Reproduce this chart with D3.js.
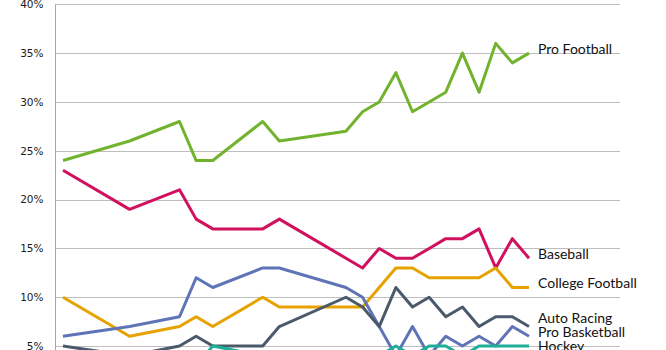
<!DOCTYPE html>
<html>
<head>
<meta charset="utf-8">
<script src="https://cdn.jsdelivr.net/npm/d3@7"></script>
<style>
  html, body { margin: 0; padding: 0; background: #fff; overflow: hidden; }
  svg { display: block; }
</style>
</head>
<body>
<svg id="chart" width="666" height="350"></svg>
<script>
// Survey years and share of fans naming each sport as their favourite (%)
const years = [1985, 1989, 1992, 1993, 1994, 1997, 1998, 2002, 2003, 2004, 2005, 2006, 2007, 2008, 2009, 2010, 2011, 2012, 2013];
const proFootball     = [24, 26, 28, 24, 24, 28, 26, 27, 29, 30, 33, 29, 30, 31, 35, 31, 36, 34, 35];
const baseball        = [23, 19, 21, 18, 17, 17, 18, 14, 13, 15, 14, 14, 15, 16, 16, 17, 13, 16, 14];
const collegeFootball = [10, 6, 7, 8, 7, 10, 9, 9, 9, 11, 13, 13, 12, 12, 12, 12, 13, 11, 11];
const autoRacing      = [5, 4, 5, 6, 5, 5, 7, 10, 9, 7, 11, 9, 10, 8, 9, 7, 8, 8, 7];
const proBasketball   = [6, 7, 8, 12, 11, 13, 13, 11, 10, 7, 4, 7, 4, 6, 5, 6, 5, 7, 6];
const hockey          = [2, 3, 3, 3, 5, 4, 4, 4, 4, 4, 5, 4, 5, 5, 4, 5, 5, 5, 5];

const seriesNames  = ["Pro Football", "Baseball", "College Football", "Pro Basketball", "Auto Racing", "Hockey"];
const seriesValues = [proFootball, baseball, collegeFootball, proBasketball, autoRacing, hockey];
const seriesColors = ["#71B32F", "#D1105E", "#E6A200", "#5E74B6", "#4B5A6B", "#1FAE97"];
const yTicks = [0, 5, 10, 15, 20, 25, 30, 35, 40];

const svg = d3.select("#chart");

// Plot area: the value axis runs from 0% at the bottom to 40% at the top;
// the lower part of the range falls below the visible frame.
const x = d3.scaleLinear().domain([1985, 2013]).range([63, 529]);
const y = d3.scaleLinear().domain([0, 40]).range([394.9, 4.3]);
const plotLeft = 55, plotRight = 620;

// Horizontal gridlines
svg.append("g")
  .selectAll("line")
  .data(yTicks)
  .join("line")
  .attr("x1", plotLeft).attr("x2", plotRight)
  .attr("y1", d => Math.round(y(d)) + 0.5)
  .attr("y2", d => Math.round(y(d)) + 0.5)
  .attr("stroke", "#BEBEBE")
  .attr("stroke-width", 1);

// Value axis
const yAxis = d3.axisLeft(y)
  .tickValues(yTicks)
  .tickSize(0)
  .tickPadding(12)
  .tickFormat(d => d + "%");

const gy = svg.append("g")
  .attr("transform", `translate(${plotLeft + 0.5},0)`)
  .call(yAxis);
gy.select(".domain").attr("stroke", "#A6A6A6").attr("d", `M0,${y(40)}V${y(0)}`);
gy.selectAll("text")
  .attr("font-family", "'DejaVu Sans', Verdana, sans-serif")
  .attr("font-size", 10.5)
  .attr("fill", "#1a1a1a");

// Series lines
const line = d3.line()
  .x((d, i) => x(years[i]))
  .y(d => y(d));

svg.append("g")
  .selectAll("path")
  .data(seriesValues)
  .join("path")
  .attr("d", d => line(d))
  .attr("fill", "none")
  .attr("stroke", (d, i) => seriesColors[i])
  .attr("stroke-width", 3)
  .attr("stroke-linejoin", "round");

// End-of-line labels, spread apart where they would collide
const labels = seriesNames.map((name, i) => {
  const last = seriesValues[i][seriesValues[i].length - 1];
  return { name, cy: y(last) - 4 };
}).sort((a, b) => a.cy - b.cy);

const minGap = 14;
for (let pass = 0; pass < 60; pass++) {
  for (let k = 1; k < labels.length; k++) {
    const gap = labels[k].cy - labels[k - 1].cy;
    if (gap < minGap) {
      const shift = (minGap - gap) / 2;
      labels[k - 1].cy -= shift;
      labels[k].cy += shift;
    }
  }
}

svg.append("g")
  .selectAll("text")
  .data(labels)
  .join("text")
  .attr("x", x(years[years.length - 1]) + 9)
  .attr("y", d => d.cy + 5)
  .attr("font-family", "Lato, 'Open Sans', sans-serif")
  .attr("font-size", 14)
  .attr("fill", "#111")
  .text(d => d.name);
</script>
</body>
</html>
